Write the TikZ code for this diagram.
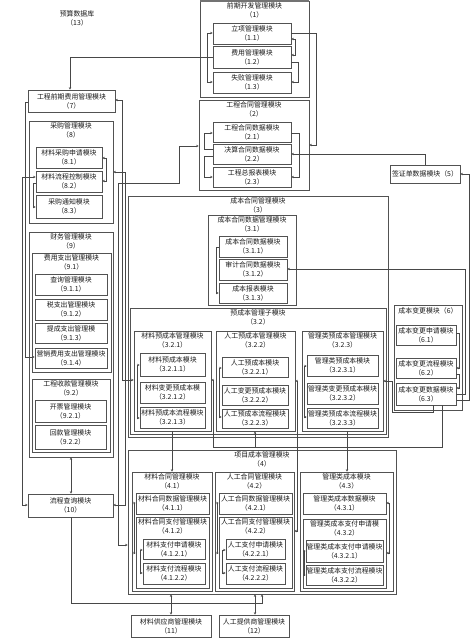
\documentclass[tikz,border=0pt]{standalone}
\usepackage{fontspec}
\setmainfont{Noto Sans CJK SC}
\usetikzlibrary{arrows.meta,fit,shadows}
\tikzset{
 boxst/.style={draw=black!68, line width=0.55pt, fill=white, inner sep=0pt,
   drop shadow={shadow xshift=1.1pt, shadow yshift=-1.1pt, fill=black!35, opacity=1}},
 txt/.style={font=\fontsize{6.9}{9}\selectfont, text=black!90, align=center, inner sep=0.5pt},
 arr/.style={draw=black!72, line width=0.5pt, -{Stealth[length=2.6pt,width=2.4pt]}},
 arr2/.style={draw=black!72, line width=0.5pt, {Stealth[length=2.6pt,width=2.4pt]}-{Stealth[length=2.6pt,width=2.4pt]}},
}
\newcommand\mkleaf[6]{\node[boxst, fit={(#2,#3) (#4,#5)}] (#1) {};\node[txt] (#1t) at (#1.center) {#6};}
\newcommand\mkcont[6]{\node[boxst, fit={(#2,#3) (#4,#5)}] (#1) {};\node[txt, anchor=north] (#1t) at ([yshift=-1pt]#1.north) {#6};}
\begin{document}
\begin{tikzpicture}[x=1pt,y=-1pt]
\useasboundingbox (0,0) rectangle (474,640);
\fill[white] (0,0) rectangle (474,640);

% database label
\node[txt] (m13) at (77,18.5) {预算数据库\\（13）};

% module 1
\mkcont{m1}{200}{1}{309}{97}{前期开发管理模块\\（1）}
\fill[black!55] (200,0) rectangle (309,2);
\mkleaf{s11}{213}{23}{291}{44}{立项管理模块\\（1.1）}
\mkleaf{s12}{213}{46}{291}{68}{费用管理模块\\（1.2）}
\mkleaf{s13}{213}{72}{291}{93}{失败管理模块\\（1.3）}

% module 2
\mkcont{m2}{199}{100}{309}{190}{工程合同管理模块\\（2）}
\mkleaf{s21}{213}{122}{291}{142}{工程合同数据模块\\（2.1）}
\mkleaf{s22}{213}{144}{291}{164}{决算合同数据模块\\（2.2）}
\mkleaf{s23}{213}{167}{291}{187}{工程总报表模块\\（2.3）}

% module 5
\mkleaf{m5}{390}{165}{460}{183}{签证单数据模块（5）}

% module 7
\mkleaf{m7}{28}{90}{115}{112}{工程前期费用管理模块\\（7）}

% module 8
\mkcont{m8}{29}{121}{113}{223}{采购管理模块\\（8）}
\mkleaf{s81}{36}{147}{102}{168}{材料采购申请模块\\（8.1）}
\mkleaf{s82}{36}{171}{102}{192}{材料流程控制模块\\（8.2）}
\mkleaf{s83}{36}{195}{102}{218}{采购通知模块\\（8.3）}

% module 9
\mkcont{m9}{29}{232}{113}{457}{财务管理模块\\（9）}
\mkcont{s91}{32}{253}{111}{372}{费用支出管理模块\\（9.1）}
\mkleaf{s911}{35}{274}{107}{295}{查询管理模块\\（9.1.1）}
\mkleaf{s912}{35}{299}{107}{320}{税支出管理模块\\（9.1.2）}
\mkleaf{s913}{35}{323}{107}{343}{提成支出管理模\\（9.1.3）}
\mkleaf{s914}{35}{348}{107}{368}{营销费用支出管理模块\\（9.1.4）}
\mkcont{s92}{32}{379}{110}{452}{工程收款管理模块\\（9.2）}
\mkleaf{s921}{35}{400}{106}{422}{开票管理模块\\（9.2.1）}
\mkleaf{s922}{35}{425}{106}{449}{回款管理模块\\（9.2.2）}

% module 10
\mkleaf{m10}{28}{494}{113}{517}{流程查询模块\\（10）}

% module 3
\mkcont{m3}{128}{196}{388}{437}{成本合同管理模块\\（3）}
\mkcont{s31}{208}{215}{296}{305}{成本合同数据管理模块\\（3.1）}
\mkleaf{s311}{219}{236}{287}{257}{成本合同数据模块\\（3.1.1）}
\mkleaf{s312}{219}{259}{287}{280}{审计合同数据模块\\（3.1.2）}
\mkleaf{s313}{219}{283}{287}{303}{成本报表模块\\（3.1.3）}
\mkcont{s32}{130}{308}{386}{434}{预成本管理子模块\\（3.2）}
\mkcont{s321}{134}{331}{211}{431}{材料预成本管理模块\\（3.2.1）}
\mkleaf{s3211}{140}{353}{205}{376}{材料预成本模块\\（3.2.1.1）}
\mkleaf{s3212}{140}{382}{205}{403}{材料变更预成本模\\（3.2.1.2）}
\mkleaf{s3213}{140}{407}{205}{428}{材料预成本流程模块\\（3.2.1.3）}
\mkcont{s322}{216}{331}{295}{431}{人工预成本管理模块\\（3.2.2）}
\mkleaf{s3221}{222}{357}{288}{377}{人工预成本模块\\（3.2.2.1）}
\mkleaf{s3222}{222}{385}{288}{405}{人工变更预成本模块\\（3.2.2.2）}
\mkleaf{s3223}{222}{409}{288}{428}{人工预成本流程模块\\（3.2.2.3）}
\mkcont{s323}{302}{331}{383}{431}{管理类预成本管理模块\\（3.2.3）}
\mkleaf{s3231}{307}{355}{378}{376}{管理类预成本模块\\（3.2.3.1）}
\mkleaf{s3232}{307}{383}{378}{404}{管理类变更预成本模块\\（3.2.3.2）}
\mkleaf{s3233}{307}{408}{378}{428}{管理类预成本流程模块\\（3.2.3.3）}

% module 6
\node[boxst, fit={(394,305) (462,410)}] (m6) {};
\node[txt, anchor=north] (m6t) at ([yshift=-2pt]m6.north) {成本变更模块（6）};
\mkleaf{s61}{396}{325}{456}{345}{成本变更申请模块\\（6.1）}
\mkleaf{s62}{396}{358}{456}{378}{成本变更流程模块\\（6.2）}
\mkleaf{s63}{396}{383}{456}{405}{成本变更数据模块\\（6.3）}

% module 4
\mkcont{m4}{128}{450}{396}{594}{项目成本管理模块\\（4）}
\mkcont{s41}{132}{472}{212}{591}{材料合同管理模块\\（4.1）}
\mkleaf{s411}{136}{493}{209}{514}{材料合同数据管理模块\\（4.1.1）}
\mkcont{s412}{136}{517}{209}{588}{材料合同支付管理模块\\（4.1.2）}
\mkleaf{s4121}{143}{539}{205}{559}{材料支付申请模块\\（4.1.2.1）}
\mkleaf{s4122}{143}{563}{205}{584}{材料支付流程模块\\（4.1.2.2）}
\mkcont{s42}{215}{472}{294}{591}{人工合同管理模块\\（4.2）}
\mkleaf{s421}{219}{493}{292}{514}{人工合同数据管理模块\\（4.2.1）}
\mkcont{s422}{219}{517}{292}{588}{人工合同支付管理模块\\（4.2.2）}
\mkleaf{s4221}{226}{539}{285}{559}{人工支付申请模块\\（4.2.2.1）}
\mkleaf{s4222}{226}{563}{285}{584}{人工支付流程模块\\（4.2.2.2）}
\mkcont{s43}{300}{472}{393}{591}{管理类成本模块\\（4.3）}
\mkleaf{s431}{303}{493}{386}{514}{管理类成本数据模块\\（4.3.1）}
\mkcont{s432}{303}{519}{386}{588}{管理类成本支付申请模\\（4.3.2）}
\mkleaf{s4321}{306}{540}{383}{562}{管理类成本支付申请模块\\（4.3.2.1）}
\mkleaf{s4322}{306}{565}{383}{585}{管理类成本支付流程模块\\（4.3.2.2）}

% modules 11, 12
\mkleaf{m11}{131}{615}{211}{637}{材料供应商管理模块\\（11）}
\mkleaf{m12}{219}{615}{289}{637}{人工提供商管理模块\\（12）}

% ---------- connectors ----------
% inside 1
\draw[arr2] (s11.west |- 0,33) -| (207,82) -- (s13.west |- 0,82);
\draw[arr2] (s11.east |- 0,39) -| (295,55) -- (s12.east |- 0,55);
\draw[arr] (s12.east |- 0,62) -| (298.5,82) -- (s13.east |- 0,82);
\draw[arr] (s12.west |- 0,57) -| (70,0 |- m7.north);
\draw[arr] (s11.east |- 0,33) -| (316,145) -- (m2.east |- 0,145);
% inside 2
\draw[arr] (s22.west |- 0,149) -| (204,133) -- (s21.west |- 0,133);
\draw[arr] (s22.west |- 0,156) -| (204,177) -- (s23.west |- 0,177);
\draw[arr] (s21.east |- 0,133) -| (299,177) -- (s23.east |- 0,177);
\draw[arr] (425,0 |- m5.north) |- (s22.east |- 0,154);
% inside 8
\draw[arr2] (s81.east |- 0,158) -| (106,181) -- (s82.east |- 0,181);
\draw[arr] (s82.west |- 0,183) -| (33,207) -- (s83.west |- 0,207);
% left side lines
\draw[arr] (m7.west |- 0,102) -| (25,357) -- (s914.west |- 0,357);
\draw[arr2] (s82.west |- 0,177) -| (22,505) -- (m10.west |- 0,505);
\draw[arr2] (m7.east |- 0,100) -| (122,380) -- (s321.west |- 0,380);
\draw[arr2] (m8.east |- 0,172) -| (125,505) -- (m10.east |- 0,505);
\draw[arr2] (m4.west |- 0,545) -| (118,183) -| (179,146) -- (m2.west |- 0,146);
% 9, 10, 4, 11, 12
\draw[arr2] (71,0 |- m9.south) -- (71,0 |- m10.north);
\draw[arr] (71,0 |- m10.south) |- (262,603) -- (262,0 |- m4.south);
\draw[arr2] (171,0 |- m4.south) -- (171,0 |- m11.north);
\draw[arr2] (255,0 |- m4.south) -- (255,0 |- m12.north);
% inside 3.1
\draw[arr] (s311.west |- 0,247) -| (216,293) -- (s313.west |- 0,293);
% inside 3.2
\draw[arr2] (s3211.west |- 0,365) -| (137,418) -- (s3213.west |- 0,418);
\draw[arr2] (s3221.west |- 0,368) -| (219,417) -- (s3223.west |- 0,417);
\draw[arr2] (s3231.west |- 0,366) -| (304.5,417) -- (s3233.west |- 0,417);
% 6 and 5
\draw[arr] (s61.east |- 0,333) -| (459,368) -- (s62.east |- 0,368);
\draw[arr] (s62.east |- 0,374) -| (459,388) -- (s63.east |- 0,388);
\draw[arr] (s63.east |- 0,394) -| (465,269) -- (s312.east |- 0,269);
\draw[arr] (s63.east |- 0,400) -| (469,174) -- (m5.east |- 0,174);
\draw[arr] (433,0 |- s63.south) |- (392,412) |- (s323.east |- 0,381);
\draw[arr] (442,0 |- s63.south) |- (213.5,447) |- (s321.east |- 0,380);
\draw[arr] (255,447) -- (255,0 |- s322.south);
% 3.2 to 4
\draw[arr2] (s322.east |- 0,381) -| (297.5,531) -- (s42.east |- 0,531);
\draw[arr] (172,0 |- s321.south) -- (172,0 |- s41.north);
\draw[arr] (347,0 |- s323.south) -- (347,0 |- s43.north);
% inside 4
\draw[arr2] (s411.west |- 0,503) -| (134,553) -- (s412.west |- 0,553);
\draw[arr2] (s4121.west |- 0,550) -| (140,573) -- (s4122.west |- 0,573);
\draw[arr2] (s421.west |- 0,503) -| (217,553) -- (s422.west |- 0,553);
\draw[arr2] (s4221.west |- 0,550) -| (222.5,573) -- (s4222.west |- 0,573);
\draw[arr2] (s431.east |- 0,503) -| (389.5,553) -- (s432.east |- 0,553);
\draw[arr2] (s4321.west |- 0,551) -| (304.5,575) -- (s4322.west |- 0,575);
\end{tikzpicture}
\end{document}
